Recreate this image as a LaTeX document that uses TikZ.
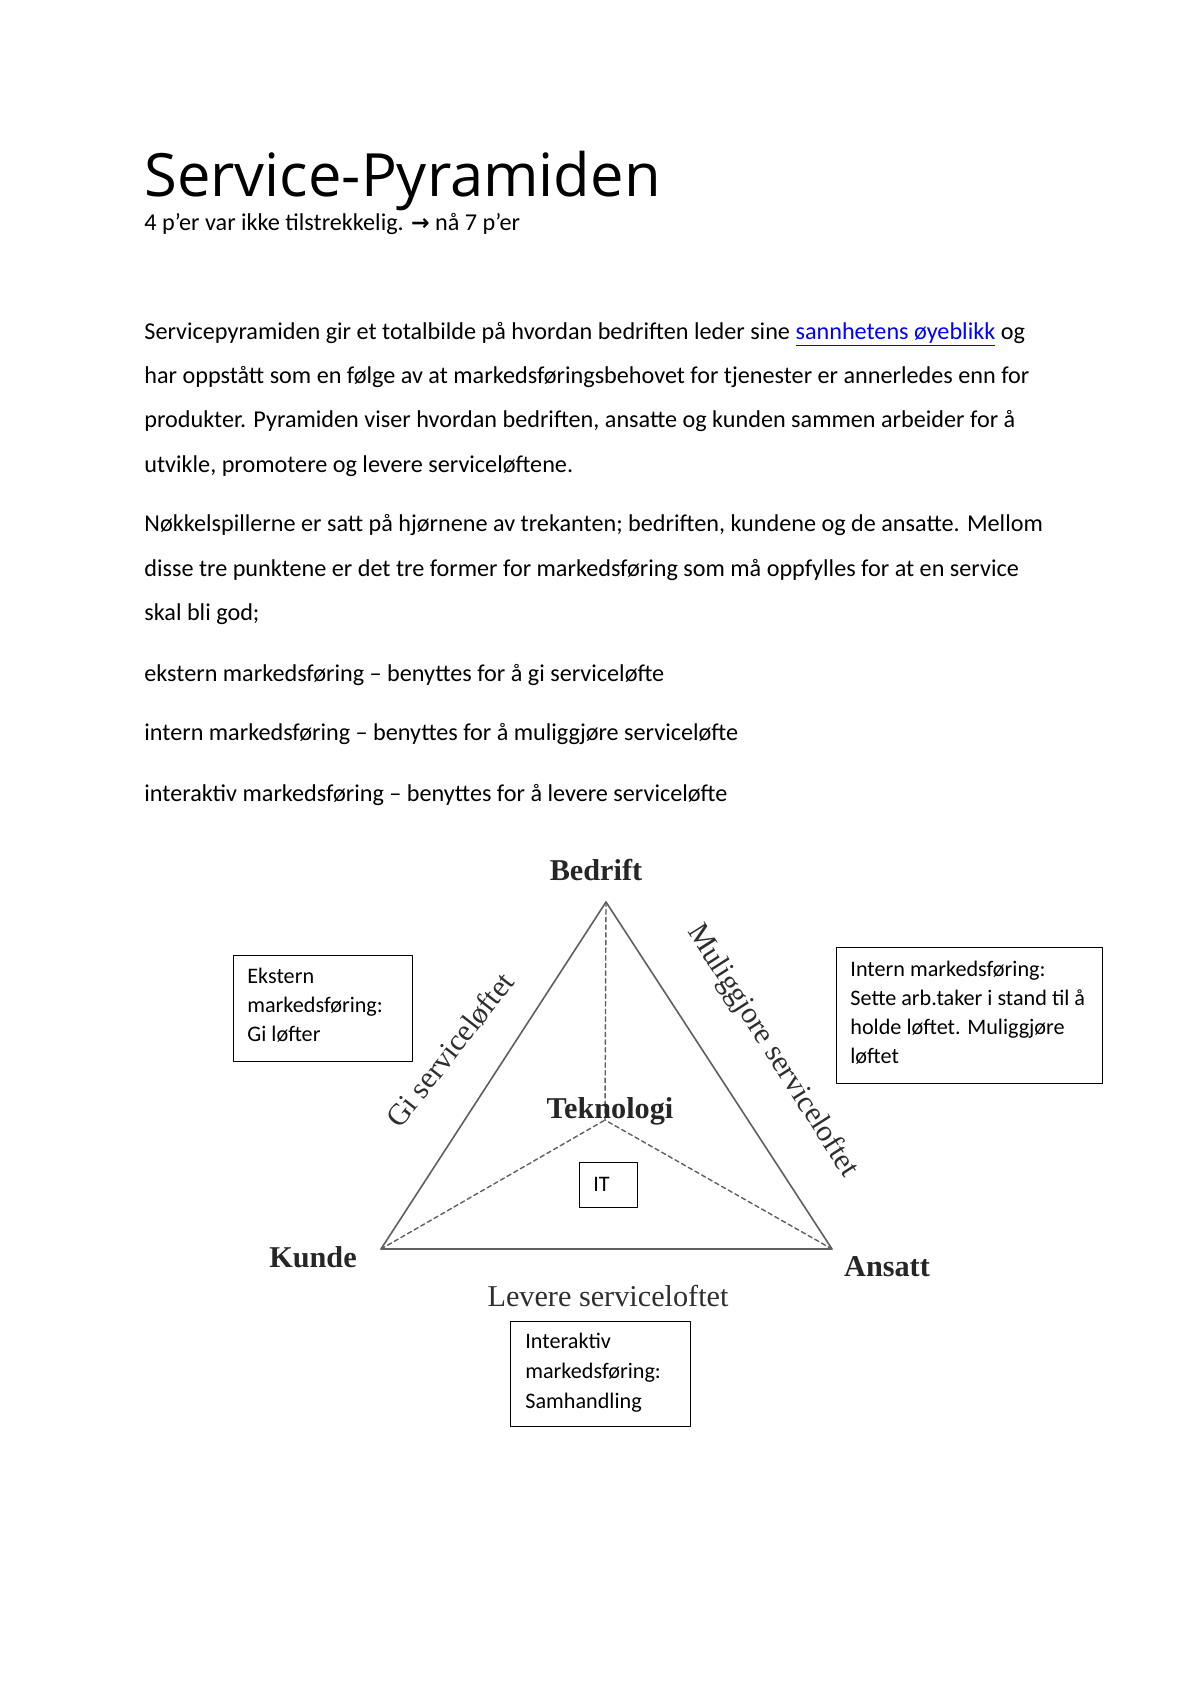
\documentclass[tikz,border=0pt]{standalone}
\usepackage{fontspec}
\setmainfont{Carlito}
\newfontfamily\titlefont{Open Sans}
\newfontfamily\symfont{DejaVu Sans}
\newfontfamily\timesfont{Liberation Serif}
\usetikzlibrary{positioning}
\definecolor{linkblue}{RGB}{0,0,255}
\definecolor{edgegray}{RGB}{95,95,95}
\newcommand{\linktext}[1]{\textcolor{linkblue}{\underline{#1}}}
\def\px{0.4961pt}
\begin{document}
\begin{tikzpicture}[x=\px, y=-\px, line join=round, line cap=round,
	txt/.style={anchor=base west, inner sep=0pt, font=\fontsize{12}{14}\selectfont},
	boxtxt/.style={anchor=base west, inner sep=0pt, font=\fontsize{11}{13}\selectfont},
	corner/.style={anchor=base, inner sep=0pt, font=\timesfont\bfseries\fontsize{15}{18}\selectfont, text=black!85},
	side/.style={inner sep=0pt, font=\timesfont\fontsize{15}{18}\selectfont, text=black!82},
	edge/.style={draw=edgegray, line width=0.8pt},
	spoke/.style={draw=edgegray, line width=0.7pt, dash pattern=on 2.2pt off 1.6pt},
	infobox/.style={draw, line width=0.6pt, inner sep=0pt, anchor=north west}]
	\useasboundingbox (0,0) rectangle (1200,1698);
	% --- heading and text
	\node[anchor=base west, inner sep=0pt, font=\titlefont\fontsize{29.6}{34}\selectfont] (title) at (144,196) {Service-Pyramiden};
	\node[txt] (sub) at (144,230) {4 p’er var ikke tilstrekkelig. {\symfont\bfseries\fontsize{11}{12}\selectfont →} nå 7 p’er};
	\node[txt] (p1a) at (144,339) {Servicepyramiden gir et totalbilde på hvordan bedriften leder sine \linktext{sannhetens øyeblikk} og};
	\node[txt] (p1b) at (144,383) {har oppstått som en følge av at markedsføringsbehovet for tjenester er annerledes enn for};
	\node[txt] (p1c) at (144,427) {produkter. Pyramiden viser hvordan bedriften, ansatte og kunden sammen arbeider for å};
	\node[txt] (p1d) at (144,472) {utvikle, promotere og levere serviceløftene.};
	\node[txt] (p2a) at (144,531) {Nøkkelspillerne er satt på hjørnene av trekanten; bedriften, kundene og de ansatte. Mellom};
	\node[txt] (p2b) at (144,576) {disse tre punktene er det tre former for markedsføring som må oppfylles for at en service};
	\node[txt] (p2c) at (144,620) {skal bli god;};
	\node[txt] (ekst) at (144,681) {ekstern markedsføring – benyttes for å gi serviceløfte};
	\node[txt] (intr) at (144,740) {intern markedsføring – benyttes for å muliggjøre serviceløfte};
	\node[txt] (inta) at (144,801) {interaktiv markedsføring – benyttes for å levere serviceløfte};
	% --- pyramid
	\coordinate (top) at (606,902);
	\coordinate (left) at (381,1249);
	\coordinate (right) at (832,1249);
	\coordinate (mid) at (605,1120);
	\draw[spoke] (top) -- (mid);
	\draw[spoke] (left) -- (mid);
	\draw[spoke] (right) -- (mid);
	\draw[edge] (top) -- (left) -- (right) -- cycle;
	\node[corner] (bedrift) at (596,880) {Bedrift};
	\node[corner] (kunde) at (313,1267) {Kunde};
	\node[corner] (ansatt) at (887,1276) {Ansatt};
	\node[corner] (teknologi) at (610,1118) {Teknologi};
	\node[side, rotate=52] (gi) at (450,1050) {Gi serviceløftet};
	\node[side, rotate=-57.5] (muliggj) at (772,1051) {Muliggjore serviceloftet};
	\node[side, anchor=base] (levere) at (608,1306) {Levere serviceloftet};
	% --- boxes
	\node[infobox, minimum width=179*\px, minimum height=106*\px] (ekstbox) at (233,955) {};
	\node[boxtxt] (ekst1) at (247,983) {Ekstern};
	\node[boxtxt] (ekst2) at (247,1012) {markedsføring:};
	\node[boxtxt] (ekst3) at (247,1041) {Gi løfter};
	\node[infobox, minimum width=266*\px, minimum height=136*\px] (intrbox) at (836,947) {};
	\node[boxtxt] (intr1) at (850,976) {Intern markedsføring:};
	\node[boxtxt] (intr2) at (850,1005) {Sette arb.taker i stand til å};
	\node[boxtxt] (intr3) at (850,1034) {holde løftet. Muliggjøre};
	\node[boxtxt] (intr4) at (850,1063) {løftet};
	\node[infobox, minimum width=180*\px, minimum height=105*\px] (intabox) at (510,1321) {};
	\node[boxtxt] (inta1) at (525,1348) {Interaktiv};
	\node[boxtxt] (inta2) at (525,1378) {markedsføring:};
	\node[boxtxt] (inta3) at (525,1408) {Samhandling};
	\node[infobox, minimum width=58*\px, minimum height=45*\px] (itbox) at (579,1162) {};
	\node[boxtxt] (it) at (593,1191) {IT};
\end{tikzpicture}
\end{document}
